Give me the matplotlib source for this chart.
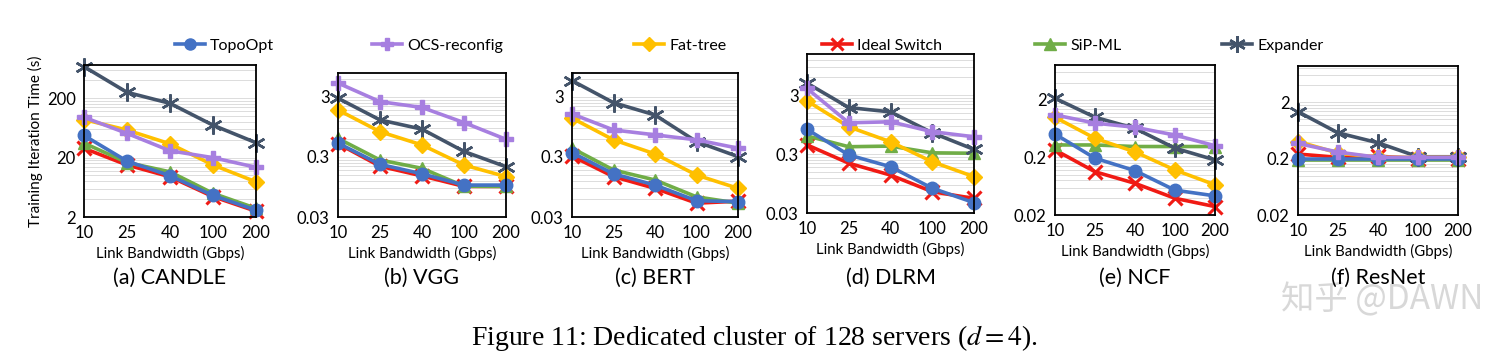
#!/usr/bin/python
import numpy as np
import matplotlib as mpl
mpl.use("Agg")
import matplotlib.pyplot as plt
from matplotlib.lines import Line2D

bw_labels = ["10", "25", "40", "100", "200"]
panel_titles = ["(a) CANDLE", "(b) VGG", "(c) BERT", "(d) DLRM", "(e) NCF", "(f) ResNet"]
series_names = ["TopoOpt", "OCS-reconfig", "Fat-tree", "Ideal Switch", "SiP-ML", "Expander"]

# training iteration time (s) per panel, per series
candle_topoopt = [47, 17.4, 9.9, 4.6, 2.6]
candle_ocs = [95, 51, 26, 19.9, 13.7]
candle_fattree = [87, 58, 34, 15, 7.8]
candle_ideal = [28.6, 15, 9.5, 4.4, 2.5]
candle_sipml = [35, 16.5, 11.5, 5.0, 2.8]
candle_expander = [676, 250, 163, 70, 35.5]

vgg_topoopt = [0.51, 0.226, 0.157, 0.102, 0.102]
vgg_ocs = [5.1, 2.5, 2.0, 1.12, 0.59]
vgg_fattree = [1.82, 0.79, 0.475, 0.22, 0.141]
vgg_ideal = [0.5, 0.21, 0.145, 0.097, 0.097]
vgg_sipml = [0.61, 0.267, 0.194, 0.098, 0.097]
vgg_expander = [2.85, 1.24, 0.87, 0.37, 0.206]

bert_topoopt = [0.354, 0.157, 0.102, 0.056, 0.054]
bert_ocs = [1.56, 0.845, 0.70, 0.578, 0.42]
bert_fattree = [1.33, 0.578, 0.337, 0.15, 0.09]
bert_ideal = [0.31, 0.141, 0.09, 0.051, 0.055]
bert_sipml = [0.42, 0.182, 0.124, 0.065, 0.051]
bert_expander = [5.6, 2.4, 1.5, 0.54, 0.304]

dlrm_topoopt = [0.79, 0.29, 0.183, 0.079, 0.045]
dlrm_ocs = [3.9, 1.02, 1.06, 0.72, 0.59]
dlrm_fattree = [2.4, 0.87, 0.485, 0.222, 0.124]
dlrm_ideal = [0.43, 0.21, 0.132, 0.069, 0.053]
dlrm_sipml = [0.61, 0.40, 0.41, 0.315, 0.31]
dlrm_expander = [4.8, 1.85, 1.56, 0.69, 0.36]

ncf_topoopt = [0.51, 0.194, 0.118, 0.054, 0.043]
ncf_ocs = [1.1, 0.79, 0.67, 0.49, 0.32]
ncf_fattree = [1.0, 0.43, 0.25, 0.121, 0.067]
ncf_ideal = [0.27, 0.113, 0.071, 0.039, 0.028]
ncf_sipml = [0.33, 0.33, 0.31, 0.31, 0.31]
ncf_expander = [2.14, 1.0, 0.64, 0.29, 0.181]

resnet_topoopt = [0.2, 0.2, 0.2, 0.2, 0.2]
resnet_ocs = [0.37, 0.26, 0.21, 0.21, 0.21]
resnet_fattree = [0.40, 0.25, 0.21, 0.21, 0.21]
resnet_ideal = [0.24, 0.21, 0.22, 0.2, 0.2]
resnet_sipml = [0.19, 0.19, 0.19, 0.19, 0.19]
resnet_expander = [1.35, 0.57, 0.38, 0.215, 0.215]

panels = [
    [candle_topoopt, candle_ocs, candle_fattree, candle_ideal, candle_sipml, candle_expander],
    [vgg_topoopt, vgg_ocs, vgg_fattree, vgg_ideal, vgg_sipml, vgg_expander],
    [bert_topoopt, bert_ocs, bert_fattree, bert_ideal, bert_sipml, bert_expander],
    [dlrm_topoopt, dlrm_ocs, dlrm_fattree, dlrm_ideal, dlrm_sipml, dlrm_expander],
    [ncf_topoopt, ncf_ocs, ncf_fattree, ncf_ideal, ncf_sipml, ncf_expander],
    [resnet_topoopt, resnet_ocs, resnet_fattree, resnet_ideal, resnet_sipml, resnet_expander],
]
y_ticks = [[2, 20, 200], [0.03, 0.3, 3], [0.03, 0.3, 3], [0.03, 0.3, 3], [0.02, 0.2, 2], [0.02, 0.2, 2]]
y_tick_labels = [["2", "20", "200"], ["0.03", "0.3", "3"], ["0.03", "0.3", "3"],
                 ["0.03", "0.3", "3"], ["0.02", "0.2", "2"], ["0.02", "0.2", "2"]]
y_tops = [720, 7.5, 7.5, 15, 8.1, 8.7]

#-------------------------------------------------------------------------------
colors = ['#4472C4', '#A77FE0', '#FFC000', '#F01A14', '#70AD47', '#44546A']
markers = ['o', 'P', 'D', 'x', '^', (6, 2, 0)]
msizes = [9, 10, 8, 10, 9, 13]
mews = [1, 1, 1, 2.2, 1, 1.8]
zorders = [6, 7, 5, 2, 3, 4]

# axes boxes in pixels: left, right, top, bottom
boxes = [(84, 256, 65, 217), (338, 506, 73, 217), (572, 738, 73, 217),
         (807, 974, 54, 213), (1055, 1215, 65, 215), (1298, 1458, 66, 215)]
W, H = 1502., 361.

plt.rcParams.update({'font.family': ['Lato', 'DejaVu Sans'],
                     'font.size': 10,
                     'mathtext.fontset': 'stix',
                     'axes.linewidth': 1.3})

fig = plt.figure(figsize=(15.02, 3.61), dpi=100)

for p, (l, r, t, b) in enumerate(boxes):
    ax = fig.add_axes([l / W, 1 - b / H, (r - l) / W, (b - t) / H])
    x = np.arange(len(bw_labels))
    for s in range(len(series_names)):
        ax.plot(x, panels[p][s], color=colors[s], marker=markers[s], ms=msizes[s],
                mew=mews[s], mec=colors[s], lw=2.6, zorder=zorders[s], clip_on=False)
    ax.set_yscale('log')
    lo = y_ticks[p][0]
    ax.set_ylim(lo, y_tops[p])
    ax.set_xlim(0, 4)
    # Excel-style minor gridlines
    grid = []
    for dec in range(4):
        for k in range(1, 10):
            v = lo * 10 ** dec * k
            if lo < v < y_tops[p]:
                grid.append(v)
    for v in grid:
        ax.axhline(v, color='#dcdcdc', lw=0.7, zorder=0)
    ax.set_yticks(y_ticks[p])
    ax.set_yticklabels(y_tick_labels[p])
    ax.yaxis.set_minor_locator(mpl.ticker.NullLocator())
    ax.set_xticks(x)
    ax.set_xticklabels(bw_labels)
    ax.tick_params(length=0, labelsize=12, pad=6)
    ax.set_xlabel("Link Bandwidth (Gbps)", fontsize=10.8, labelpad=3)
    for sp in ax.spines.values():
        sp.set_zorder(8)
    fig.text((l + r) / 2 / W, 1 - 278 / H, panel_titles[p], ha='center', va='center', fontsize=15.5)
    if p == 0:
        ax.set_ylabel("Training Iteration Time (s)", fontsize=11, labelpad=3)

# legend entries spread along the top
leg_x = [175, 372, 634, 822, 1035, 1222]
for s in range(len(series_names)):
    h = Line2D([], [], color=colors[s], marker=markers[s], ms=msizes[s] - 1, mew=mews[s], lw=2.6)
    fig.legend(handles=[h], labels=[series_names[s]], loc='center left',
               bbox_to_anchor=(leg_x[s] / W, 1 - 46 / H), frameon=False, fontsize=11.5,
               handlelength=1.9, handletextpad=0.3, borderpad=0, borderaxespad=0)

fig.text(0.502, 1 - 338 / H, "Figure 11: Dedicated cluster of 128 servers ($d = 4$).",
         ha='center', va='center', fontsize=20, family='Liberation Serif')
fig.text(1382 / W, 1 - 300 / H, "知乎 @DAWN", ha='center', va='center', fontsize=24,
         color='#d8d8d8', family=['Noto Sans CJK SC', 'DejaVu Sans'], zorder=0)

plt.savefig('out.png', dpi=100)
